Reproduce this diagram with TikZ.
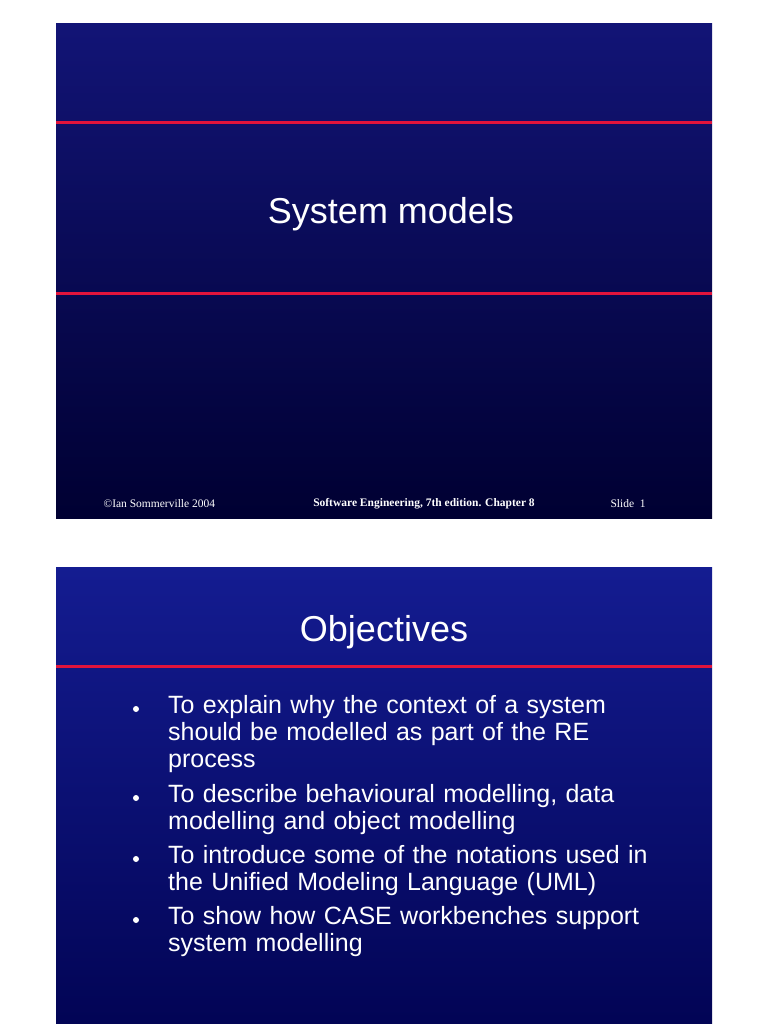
\documentclass[tikz,border=0pt]{standalone}
\usepackage{fontspec}
\setmainfont{Liberation Sans}
\newfontfamily\serifft{Liberation Serif}
\newfontfamily\dejavu{DejaVu Sans}
\definecolor{sltopA}{RGB}{18,20,118}
\definecolor{slbotA}{RGB}{0,0,50}
\definecolor{sltopB}{RGB}{20,28,145}
\definecolor{slbotB}{RGB}{2,4,85}
\definecolor{redline}{RGB}{225,20,60}
\begin{document}
\begin{tikzpicture}[x=1pt,y=-1pt,
  rl/.style={redline,line width=3pt},
  title/.style={text=white,font=\fontsize{36}{40}\selectfont},
  foot/.style={text=white,font=\serifft\fontsize{11.5}{13}\selectfont},
  bul/.style={text=white,anchor=north west,align=left,text width=560pt,inner sep=0pt,font=\fontsize{25}{27}\selectfont},
  dot/.style={circle,fill=white,inner sep=0pt,minimum size=6pt}]
\useasboundingbox (0,0) rectangle (768,1024);
\fill[white] (0,0) rectangle (768,1024);
\shade[top color=sltopA,bottom color=slbotA] (56,24) rectangle (712,518);
\draw[rl] (56,123) -- (712,123);
\draw[rl] (56,293) -- (712,293);
\node[title] (t1) at (391,214) {System models};
\node[foot,anchor=west] (f1) at (100,504) {©Ian Sommerville 2004};
\node[foot,font=\serifft\bfseries\fontsize{11.5}{13}\selectfont] (f2) at (424,504) {Software Engineering, 7th edition. Chapter 8};
\node[foot,anchor=west] (f3) at (607,504) {Slide~~1};
\shade[top color=sltopB,bottom color=slbotB] (56,567) rectangle (712,1024);
\draw[rl] (56,666) -- (712,666);
\node[title] (t2) at (384,632) {Objectives};
\foreach \y/\t [count=\i] in {695/{To explain why the context of a system\\should be modelled as part of the RE\\process},
  784/{To describe behavioural modelling, data\\modelling and object modelling},
  845/{To introduce some of the notations used in\\the Unified Modeling Language (UML)},
  906/{To show how CASE workbenches support\\system modelling}}{
  \node[dot] (d\i) at (136,\y+14) {};
  \node[bul] (b\i) at (168,\y) {\t};
}
\end{tikzpicture}
\end{document}
